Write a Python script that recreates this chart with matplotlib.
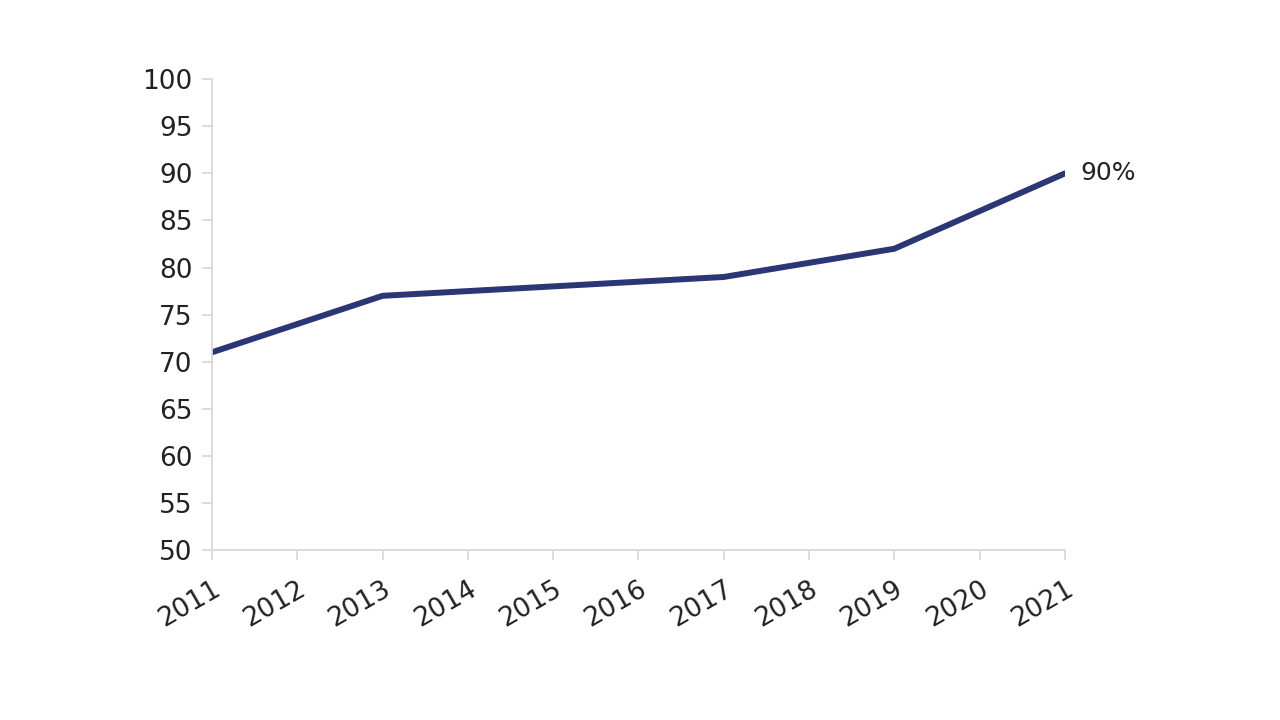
import matplotlib.pyplot as plt
import numpy as np

years = ['2011', '2012', '2013', '2014', '2015', '2016', '2017', '2018', '2019', '2020', '2021']
values = [71, 74, 77, 77.5, 78, 78.5, 79, 80.5, 82, 86, 90]
yticks = np.arange(50, 101, 5)

plt.rcParams['font.family'] = ['DejaVu Sans']

fig = plt.figure(figsize=(12.8, 7.2), dpi=100)
ax = fig.add_axes([0.1656, 0.236, 0.6664, 0.654])

x = np.arange(len(years))
ax.plot(x, values, color='#2B3674', linewidth=4.3, solid_capstyle='round', solid_joinstyle='round')
ax.text(x[-1] + 0.18, values[-1], '%d%%' % values[-1], fontsize=18, color='#222222', va='center', ha='left')

ax.set_xlim(0, len(years) - 1)
ax.set_ylim(50, 100)
ax.set_xticks(x)
ax.set_xticklabels(years, rotation=30, ha='right', rotation_mode='anchor')
ax.set_yticks(yticks)

for s in ['top', 'right']:
    ax.spines[s].set_visible(False)
for s in ['left', 'bottom']:
    ax.spines[s].set_color('#D9D9D9')
    ax.spines[s].set_linewidth(1.3)
ax.tick_params(axis='both', colors='#D9D9D9', labelcolor='#222222', labelsize=19, length=7, width=1.3)
ax.tick_params(axis='y', pad=7)
ax.tick_params(axis='x', pad=12)

plt.savefig('out.png', dpi=100)
